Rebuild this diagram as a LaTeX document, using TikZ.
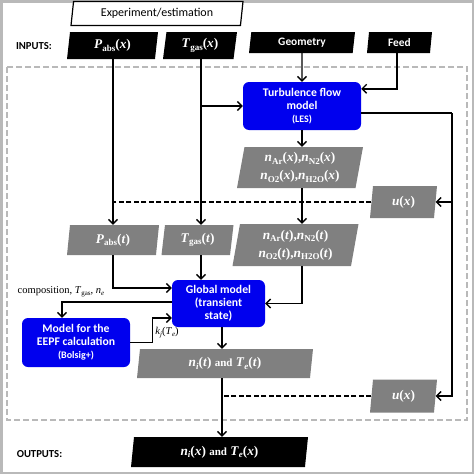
\documentclass[tikz,border=0pt]{standalone}
\usepackage{fontspec}
\setmainfont{Liberation Serif}
\newfontfamily\calfont{Carlito}
\usetikzlibrary{shapes.geometric,arrows.meta}
\newcommand\sbs[1]{\raisebox{-0.45ex}{\fontsize{9}{9}\selectfont #1}}
\newcommand\ssbs[1]{\raisebox{-0.45ex}{\fontsize{7}{7}\selectfont #1}}
\definecolor{myblue}{RGB}{0,0,238}
\definecolor{mygray}{RGB}{128,128,128}
\definecolor{framegray}{RGB}{185,185,185}
\begin{document}
\begin{tikzpicture}[x=1pt,y=-1pt,
 arr/.style={line width=1.4pt,-{Straight Barb[length=4.5pt,width=9pt]}},
 ln/.style={line width=1.4pt},
 dsh/.style={line width=1.4pt,dash pattern=on 5pt off 2.5pt},
 para/.style={trapezium,trapezium left angle=76,trapezium right angle=104,trapezium stretches body,inner sep=0pt,text=white,align=center,font=\fontsize{13.3}{18}\selectfont\bfseries},
 blk/.style={para,fill=black},
 gry/.style={para,fill=mygray},
 lbl/.style={para,font=\calfont\bfseries\fontsize{11.4}{13}\selectfont},
 blu/.style={rectangle,rounded corners=6pt,fill=myblue,text=white,align=center,inner sep=0pt,font=\calfont\bfseries\fontsize{11.7}{13}\selectfont},
 sub/.style={font=\calfont\bfseries\fontsize{10}{11}\selectfont},
 side/.style={font=\calfont\bfseries\fontsize{10.7}{12}\selectfont}
]
\useasboundingbox (0,0) rectangle (474,474);
\fill[white] (0,0) rectangle (474,474);
\draw[framegray,line width=2.5pt] (1.25,1.25) rectangle (472.75,472.75);
\draw[framegray,line width=1.5pt,dash pattern=on 6pt off 3pt] (7,67) rectangle (467,420);

% nodes
\node[para,draw=black,line width=1.2pt,fill=white,text=black,font=\calfont\fontsize{12}{13}\selectfont,minimum width=172pt,minimum height=24pt] (exp) at (157,13.5) {Experiment/estimation};
\node[side] (inp) at (34,46) {INPUTS:};
\node[blk,minimum width=91pt,minimum height=27pt] (pabsx) at (112.5,45.5) {\textit{P}\sbs{abs}(\textit{x})};
\node[blk,minimum width=74pt,minimum height=27pt] (tgasx) at (200,45.5) {\textit{T}\sbs{gas}(\textit{x})};
\node[lbl,fill=black,minimum width=106pt,minimum height=21pt] (geom) at (302,42.5) {Geometry};
\node[lbl,fill=black,minimum width=65pt,minimum height=21pt] (feed) at (399.5,42.5) {Feed};

\node[blu,minimum width=118pt,minimum height=48pt] (turb) at (302,106) {Turbulence flow\\model\\{\fontsize{10}{11}\selectfont(LES)}};
\node[gry,minimum width=126pt,minimum height=41pt] (nx) at (300,167.5) {\textit{n}\sbs{Ar}(\textit{x}),\textit{n}\sbs{N2}(\textit{x})\\\textit{n}\sbs{O2}(\textit{x}),\textit{n}\sbs{H2O}(\textit{x})};
\node[gry,minimum width=67pt,minimum height=32pt] (ux1) at (403.5,202) {\textit{u}(\textit{x})};

\node[gry,minimum width=92pt,minimum height=30pt] (pabst) at (113,240) {\textit{P}\sbs{abs}(\textit{t})};
\node[gry,minimum width=72pt,minimum height=30pt] (tgast) at (197.5,240) {\textit{T}\sbs{gas}(\textit{t})};
\node[gry,minimum width=126pt,minimum height=42pt] (nt) at (295.5,245) {\textit{n}\sbs{Ar}(\textit{t}),\textit{n}\sbs{N2}(\textit{t})\\\textit{n}\sbs{O2}(\textit{t}),\textit{n}\sbs{H2O}(\textit{t})};

\node[blu,minimum width=93pt,minimum height=47pt] (glob) at (218.5,303.5) {Global model\\(transient\\state)};
\node[blu,minimum width=108pt,minimum height=49pt] (eepf) at (76,342.5) {Model for the\\EEPF calculation\\{\fontsize{10}{11}\selectfont(Bolsig+)}};
\node[font=\fontsize{10.5}{12}\selectfont] (comp) at (61,292) {composition, \textit{T}\ssbs{gas}, \textit{n}\ssbs{\textit{e}}};
\node[font=\fontsize{10.5}{12}\selectfont] (kj) at (167,333) {\textit{k}\ssbs{\textit{j}}(\textit{T}\ssbs{\textit{e}})};

\node[gry,minimum width=176pt,minimum height=29pt] (nte) at (225,363.5) {\textit{n}\sbs{\textit{i}}(\textit{t}) {\fontsize{11}{11}\selectfont and} \textit{T}\sbs{\textit{e}}(\textit{t})};
\node[gry,minimum width=67pt,minimum height=33pt] (ux2) at (403.5,396) {\textit{u}(\textit{x})};
\node[blk,minimum width=177pt,minimum height=30pt] (out) at (219.5,452) {\textit{n}\sbs{\textit{i}}(\textit{x}) {\fontsize{11}{11}\selectfont and} \textit{T}\sbs{\textit{e}}(\textit{x})};
\node[side] (outp) at (39.5,454) {OUTPUTS:};

% connectors
\draw[arr] (pabsx.south -| 113,0) -- (pabst.north -| 113,0);
\draw[arr] (tgasx.south -| 201,0) -- (tgast.north -| 201,0);
\draw[arr] (tgasx.south -| 201,0) |- (turb.west);
\draw[arr] (geom) -- (turb);
\draw[arr] (feed.south -| 397,0) |- ([yshift=-7pt]turb.north east);
\draw[arr] (turb.south) -- (turb.south |- nx.north);
\draw[arr] (nx.south -| 302,0) -- (nt.north -| 302,0);
\draw[arr] (nt.south -| 302,0) |- (glob.east);
\coordinate (rail) at (452,113);
\draw[ln] (turb.east |- rail) -- (rail);
\draw[arr] (rail) |- (ux1.east);
\draw[arr] (rail) |- (ux2.east);
\draw[dsh] (ux1.west) -- (ux1.west -| 113,0);
\draw[dsh] (ux2.west) -- (ux2.west -| 222,0);
\draw[arr] (pabst.south -| 113,0) |- (glob.west |- 0,288);
\draw[arr] (tgast.south -| 201,0) -- (glob.north -| 201,0);
\draw[arr] (glob.west |- 0,302) -| (eepf.north -| 62,0);
\draw[arr] (eepf.east) -- ++(22,0) |- (glob.west |- 0,318);
\draw[arr] (glob.south -| 222,0) -- (nte.north -| 222,0);
\draw[arr] (nte.south -| 222,0) -- (out.north -| 222,0);
\end{tikzpicture}
\end{document}
